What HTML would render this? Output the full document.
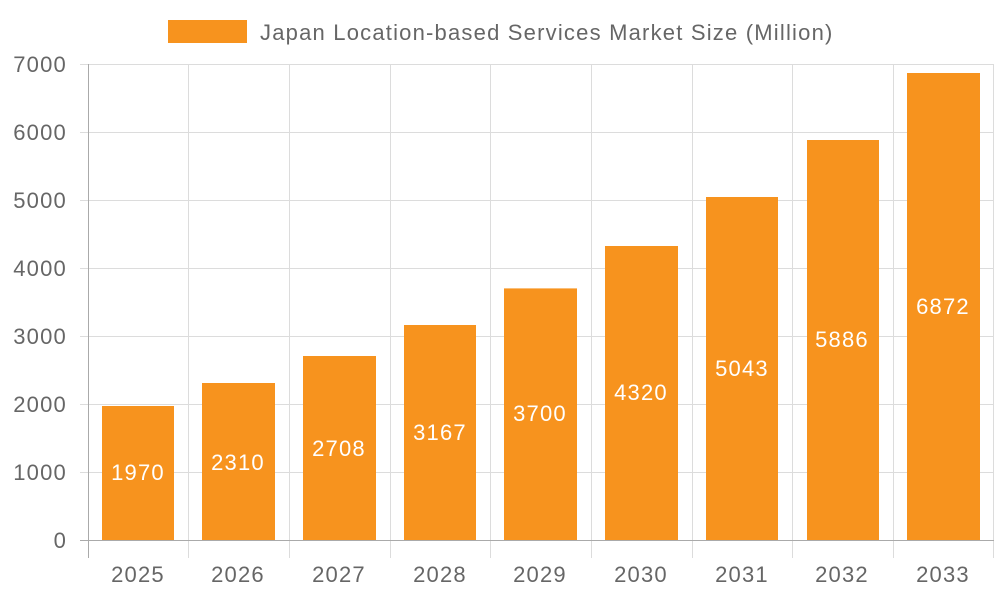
<!DOCTYPE html>
<html><head><meta charset="utf-8"><style>body{margin:0;background:#fff}svg{display:block}text{font-family:"Liberation Sans",sans-serif;letter-spacing:1.2px}</style></head><body>
<svg width="1000" height="600" viewBox="0 0 1000 600">
<rect x="168" y="20" width="79" height="23" fill="#f7931e"/>
<text x="260" y="40" font-size="22" fill="#666">Japan Location-based Services Market Size (Million)</text>
<g stroke="#dcdcdc" stroke-width="1">
<line x1="88" y1="64.5" x2="994" y2="64.5"/><line x1="88" y1="132.5" x2="994" y2="132.5"/><line x1="88" y1="200.5" x2="994" y2="200.5"/><line x1="88" y1="268.5" x2="994" y2="268.5"/><line x1="88" y1="336.5" x2="994" y2="336.5"/><line x1="88" y1="404.5" x2="994" y2="404.5"/><line x1="88" y1="472.5" x2="994" y2="472.5"/>
<line x1="188.5" y1="64" x2="188.5" y2="558"/><line x1="289.5" y1="64" x2="289.5" y2="558"/><line x1="390.5" y1="64" x2="390.5" y2="558"/><line x1="490.5" y1="64" x2="490.5" y2="558"/><line x1="591.5" y1="64" x2="591.5" y2="558"/><line x1="692.5" y1="64" x2="692.5" y2="558"/><line x1="792.5" y1="64" x2="792.5" y2="558"/><line x1="893.5" y1="64" x2="893.5" y2="558"/><line x1="993.5" y1="64" x2="993.5" y2="558"/>
<line x1="80" y1="64.5" x2="88" y2="64.5"/><line x1="80" y1="132.5" x2="88" y2="132.5"/><line x1="80" y1="200.5" x2="88" y2="200.5"/><line x1="80" y1="268.5" x2="88" y2="268.5"/><line x1="80" y1="336.5" x2="88" y2="336.5"/><line x1="80" y1="404.5" x2="88" y2="404.5"/><line x1="80" y1="472.5" x2="88" y2="472.5"/>
</g>
<g fill="#f7931e">
<rect x="102" y="406" width="72" height="134"/><rect x="202" y="383" width="73" height="157"/><rect x="303" y="356" width="73" height="184"/><rect x="404" y="325" width="72" height="215"/><rect x="504" y="288.4" width="73" height="251.6"/><rect x="605" y="246" width="73" height="294"/><rect x="706" y="197" width="72" height="343"/><rect x="807" y="140" width="72" height="400"/><rect x="907" y="73" width="73" height="467"/>
</g>
<line x1="88.5" y1="64" x2="88.5" y2="558" stroke="#aaa"/>
<line x1="80" y1="540.5" x2="994" y2="540.5" stroke="#aaa"/>
<g font-size="22" fill="#fff" text-anchor="middle">
<text x="138" y="480">1970</text><text x="238" y="470">2310</text><text x="339" y="456">2708</text><text x="440" y="440">3167</text><text x="540" y="421">3700</text><text x="641" y="400">4320</text><text x="742" y="376">5043</text><text x="842" y="347">5886</text><text x="943" y="314">6872</text>
</g>
<g font-size="22" fill="#666" text-anchor="end">
<text x="67" y="72">7000</text><text x="67" y="140">6000</text><text x="67" y="208">5000</text><text x="67" y="276">4000</text><text x="67" y="344">3000</text><text x="67" y="412">2000</text><text x="67" y="480">1000</text><text x="67" y="548">0</text>
</g>
<g font-size="22" fill="#666" text-anchor="middle">
<text x="138" y="582">2025</text><text x="238" y="582">2026</text><text x="339" y="582">2027</text><text x="440" y="582">2028</text><text x="540" y="582">2029</text><text x="641" y="582">2030</text><text x="742" y="582">2031</text><text x="842" y="582">2032</text><text x="943" y="582">2033</text>
</g>
</svg>
</body></html>
